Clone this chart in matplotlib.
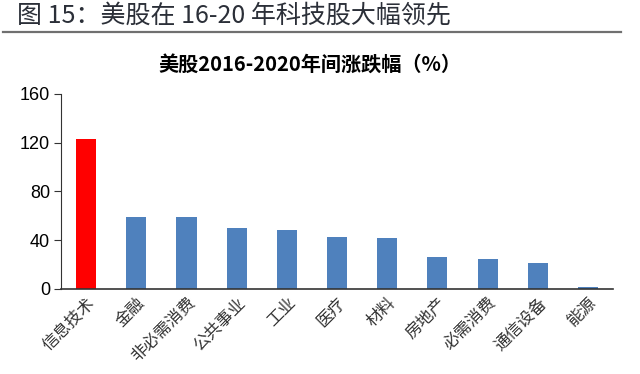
import matplotlib
matplotlib.use("Agg")
import matplotlib.pyplot as plt
import numpy as np

plt.rcParams['font.family'] = ['Noto Sans CJK SC', 'DejaVu Sans']

sectors = ['信息技术', '金融', '非必需消费', '公共事业', '工业', '医疗',
           '材料', '房地产', '必需消费', '通信设备', '能源']
returns = [123, 59, 59, 50, 48.5, 42.5, 41.5, 26.5, 24.5, 21.5, 1.5]
yticks = [0, 40, 80, 120, 160]

colors = ['#ff0000'] + ['#4f81bd'] * (len(sectors) - 1)

fig = plt.figure(figsize=(6.4, 3.74), dpi=100)

# header
fig.text(0.027, 0.958, '图 15：美股在 16-20 年科技股大幅领先', fontsize=18,
         color='#2b2f38', ha='left', va='center')
fig.add_artist(plt.Line2D([0.005, 0.97], [0.9136, 0.9136], color='#707070', lw=1.6))
fig.text(0.484, 0.829, '美股2016-2020年间涨跌幅（%）', fontsize=14.5,
         fontweight='bold', ha='center', va='center', color='black')

ax = fig.add_axes([0.0953, 0.2273, 0.8627, 0.5214])
x = np.arange(len(sectors))
ax.bar(x, returns, width=0.4, color=colors)

ax.set_xlim(-0.5, len(sectors) - 0.5)
ax.set_ylim(0, 160)
ax.set_yticks(yticks)
ax.set_xticks(x)
ax.set_xticklabels(sectors, rotation=45, ha='right', rotation_mode='anchor',
                   fontsize=12, color='#333333')
ax.tick_params(axis='x', length=0, pad=4)
ax.tick_params(axis='y', direction='out', length=5, pad=3, labelsize=13, color='#333333')
for lab in ax.get_yticklabels():
    lab.set_family(['Liberation Sans', 'DejaVu Sans'])

ax.spines['top'].set_visible(False)
ax.spines['right'].set_visible(False)
ax.spines['left'].set_color('#333333')
ax.spines['bottom'].set_color('#333333')
ax.spines['bottom'].set_linewidth(1.2)

fig.savefig('out.png', dpi=100)
